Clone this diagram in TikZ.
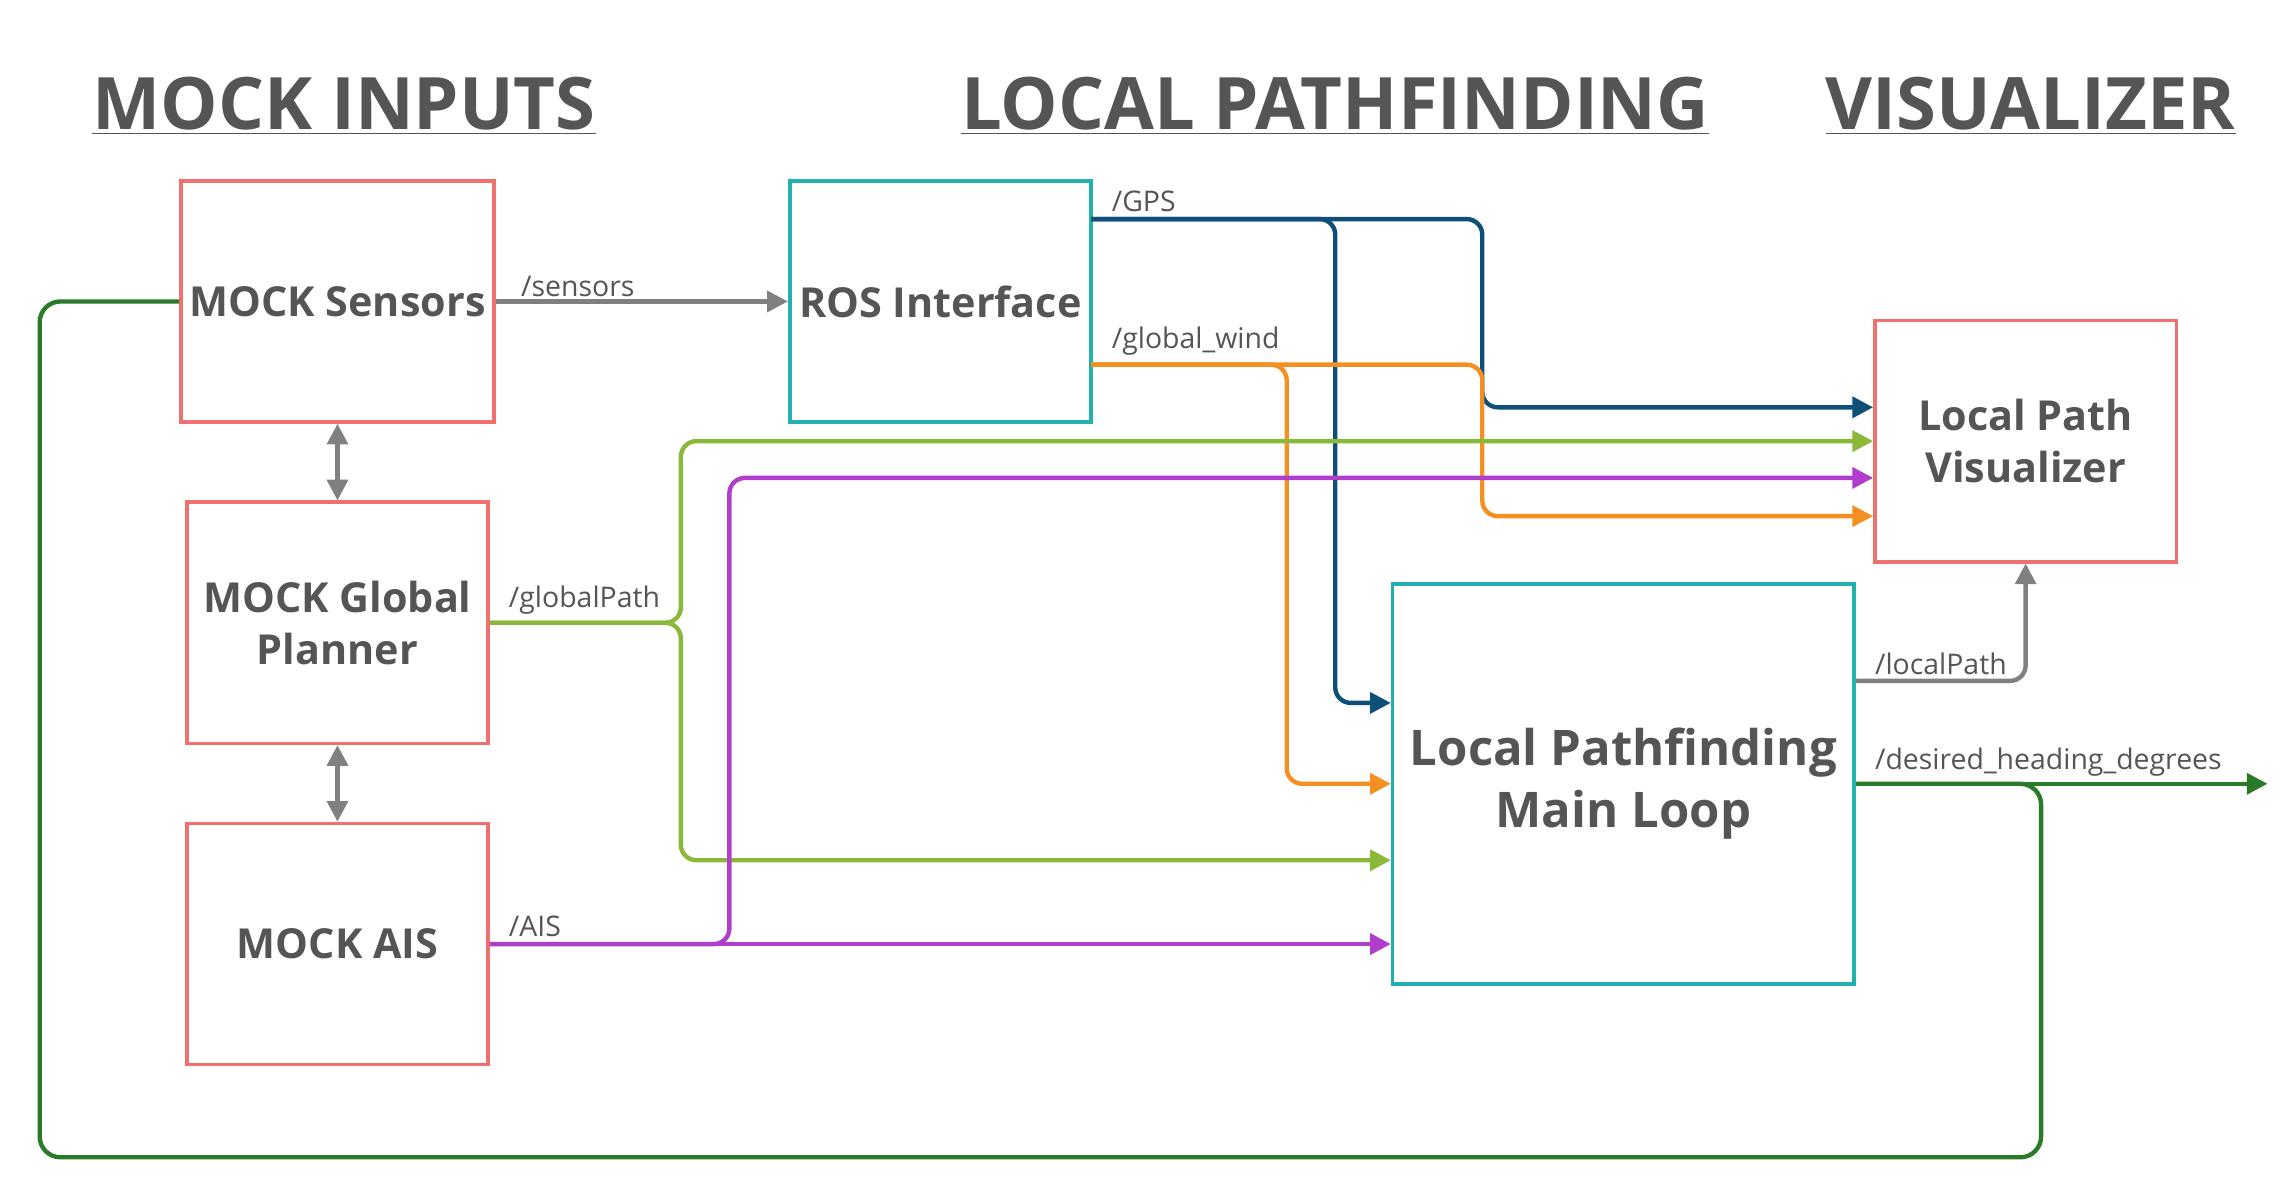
\documentclass[tikz,border=0pt]{standalone}
\usepackage{fontspec}
\setmainfont{Open Sans}
\usetikzlibrary{arrows.meta,positioning}
\definecolor{mockred}{HTML}{F07070}
\definecolor{rosteal}{HTML}{22B0B0}
\definecolor{gpsblue}{HTML}{0D4F78}
\definecolor{windorange}{HTML}{F39021}
\definecolor{pathgreen}{HTML}{8AB83A}
\definecolor{aispurple}{HTML}{B03DCC}
\definecolor{headgreen}{HTML}{2A7A2A}
\definecolor{wiregray}{HTML}{808080}
\definecolor{txtgray}{HTML}{555555}
\begin{document}
\begin{tikzpicture}[x=0.02cm,y=-0.02cm,
		mock/.style = {rectangle,draw=mockred,line width=1.4pt,minimum width=4.1cm,minimum height=3.28cm,
			align=center,text=txtgray,font=\fontsize{16}{20}\selectfont\bfseries},
		ros/.style = {mock,draw=rosteal},
		title/.style = {text=txtgray,font=\fontsize{28}{32}\selectfont\bfseries},
		topic/.style = {text=txtgray,font=\fontsize{11}{13}\selectfont,inner sep=1pt},
		wire/.style = {line width=1.7pt,rounded corners=6pt,-{Triangle[length=8pt,width=8pt]}},
		line/.style = {line width=1.7pt,rounded corners=6pt}]
	\useasboundingbox (0,0) rectangle (1560,811);
	% headings
	\node[title] (hmock) at (234,72) {\underline{MOCK INPUTS}};
	\node[title] (hlocal) at (908,72) {\underline{LOCAL PATHFINDING}};
	\node[title] (hvis) at (1381,72) {\underline{VISUALIZER}};
	% boxes
	\node[mock] (sensors) at (229.5,205) {MOCK Sensors};
	\node[mock] (planner) at (229.5,423.5) {MOCK Global\\Planner};
	\node[mock] (ais) at (229.5,642) {MOCK AIS};
	\node[ros] (ros) at (639.5,205) {ROS Interface};
	\node[mock] (vis) at (1377.5,300) {Local Path\\Visualizer};
	\node[ros,minimum width=6.28cm,minimum height=5.44cm,font=\fontsize{19}{24}\selectfont\bfseries]
		(main) at (1104,533) {Local Pathfinding\\Main Loop};
	\coordinate (out) at (1542,533);
	% links
	\draw[wire,wiregray] (sensors) -- (ros) node[topic,pos=0.07,above right] {/sensors};
	\draw[wiregray,line width=1.7pt,{Triangle[length=8pt,width=8pt]}-{Triangle[length=8pt,width=8pt]}] (sensors) -- (planner);
	\draw[wiregray,line width=1.7pt,{Triangle[length=8pt,width=8pt]}-{Triangle[length=8pt,width=8pt]}] (planner) -- (ais);
	\draw[wire,gpsblue] (742,149) -| (908,478) -- (main.west |- 0,478);
	\draw[wire,gpsblue] (742,149) -| (1008,277) -- (vis.west |- 0,277);
	\node[topic,anchor=south west] (lgps) at (754,146) {/GPS};
	\draw[wire,windorange] (742,248) -| (875,533) -- (main.west |- 0,533);
	\draw[wire,windorange] (742,248) -| (1008,351) -- (vis.west |- 0,351);
	\node[topic,anchor=south west] (lwind) at (754,244) {/global\_wind};
	\draw[wire,pathgreen] (planner.east) -| (463,300) -- (vis.west |- 0,300);
	\draw[wire,pathgreen] (planner.east) -| (463,585) -- (main.west |- 0,585);
	\node[topic,anchor=south west] (lpath) at (344,420) {/globalPath};
	\draw[wire,aispurple] (ais.east) -- (main.west |- 0,642);
	\draw[wire,aispurple] (ais.east) -| (496,325) -- (vis.west |- 0,325);
	\node[topic,anchor=south west] (lais) at (344,639) {/AIS};
	\draw[wire,wiregray] (main.east |- 0,463) -| (vis.south);
	\node[topic,anchor=south west] (llocal) at (1273,461) {/localPath};
	\draw[wire,headgreen] (main.east |- out) -- (out);
	\draw[line,headgreen,rounded corners=8pt] (main.east |- out) -| (1388,787) -| (27,205) -- (sensors.west);
	\node[topic,anchor=south west] (lhead) at (1273,530) {/desired\_heading\_degrees};
\end{tikzpicture}
\end{document}
